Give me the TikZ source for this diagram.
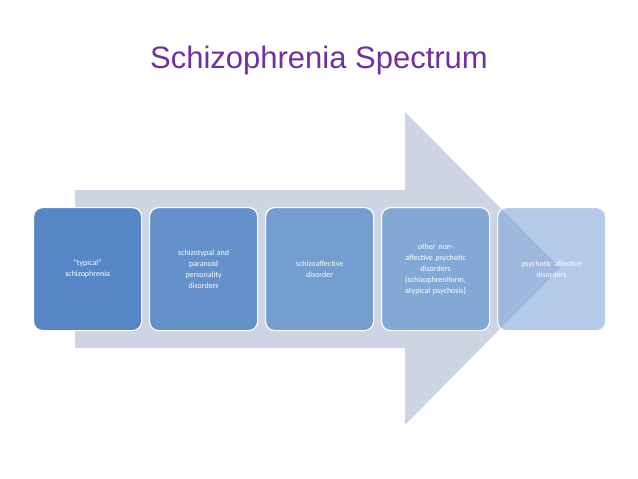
\documentclass[tikz,border=0pt]{standalone}
\usepackage{fontspec}
\setmainfont{Carlito}
\newfontfamily\titlefont{Liberation Sans}
\begin{document}
\begin{tikzpicture}[x=1pt,y=-1pt,
  box/.style={draw=white,line width=1.2pt,rounded corners=9pt,minimum width=108pt,minimum height=123pt,anchor=north west,text width=96pt,align=center,text=white,font=\fontsize{8}{11}\selectfont,inner sep=0pt}]
\useasboundingbox (0,0) rectangle (638,479);
\fill[white] (0,0) rectangle (638,479);
\fill[fill={rgb,255:red,205;green,213;blue,228}] (75,190) -- (405,190) -- (405,112) -- (560,268) -- (405,425) -- (405,348) -- (75,348) -- cycle;
\node (title) [text={rgb,255:red,112;green,48;blue,160}] at (319,60) {\titlefont\fontsize{31}{35}\selectfont Schizophrenia Spectrum};
\node[box,fill={rgb,255:red,86;green,134;blue,197}] (b1) at (33,207) {``typical''\\schizophrenia};
\node[box,fill={rgb,255:red,100;green,145;blue,202}] (b2) at (149,207) {schizotypal and\\paranoid\\personality\\disorders\\[6pt]};
\node[box,fill={rgb,255:red,116;green,157;blue,208}] (b3) at (265,207) {schizoaffective\\disorder};
\node[box,fill={rgb,255:red,132;green,168;blue,214}] (b4) at (381,207) {other non-\\affective psychotic\\disorders\\(schizophreniform,\\atypical psychosis)\\[8pt]};
\node[box,fill={rgb,255:red,120;green,160;blue,215},fill opacity=0.55,text opacity=1] (b5) at (497,207) {psychotic affective\\disorders\\[22pt]};
\end{tikzpicture}
\end{document}
